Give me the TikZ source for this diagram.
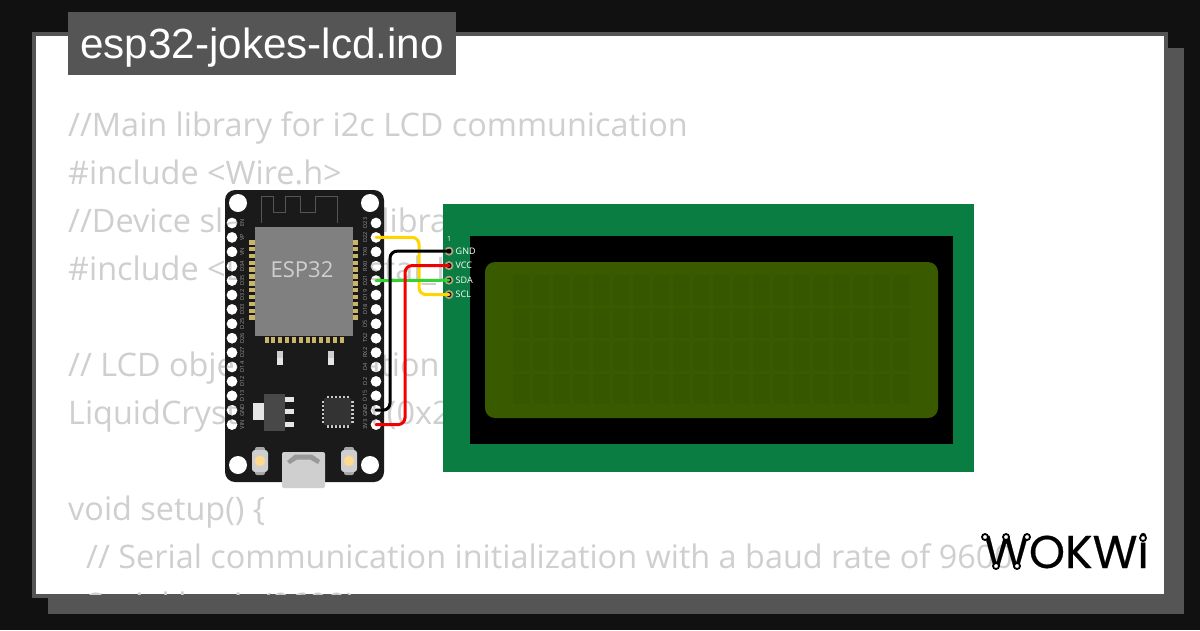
\documentclass[tikz,border=0pt]{standalone}
\usepackage{fontspec}
\setmainfont{Open Sans}
\newfontfamily\titlefont{Liberation Sans}
\newfontfamily\logofont[FakeBold=0.4]{Poppins}
\definecolor{pagebg}{HTML}{111111}
\definecolor{framegray}{HTML}{555555}
\definecolor{codegray}{HTML}{CFCFCF}
\definecolor{boardblack}{HTML}{1A1A1A}
\definecolor{padgold}{HTML}{C8B56A}
\definecolor{lcdgreen}{HTML}{0A7D43}
\definecolor{lcdscreen}{HTML}{3A5A00}
\definecolor{lcdcell}{HTML}{375600}
\definecolor{pinring}{HTML}{B3A27C}
\definecolor{wireyellow}{HTML}{FFD500}
\definecolor{wiregreen}{HTML}{32D232}
\definecolor{wirered}{HTML}{F00000}
\definecolor{btnlight}{HTML}{FFD98E}

\begin{document}
\begin{tikzpicture}[x=1pt,y=-1pt,
    codeline/.style={anchor=base west,inner sep=0pt,text=codegray,font=\fontsize{32.4}{32.4}\selectfont},
    esplabel/.style={rotate=90,inner sep=0pt,text=gray!80!white,font=\fontsize{5.6}{5.6}\selectfont},
    lcdlabel/.style={anchor=west,inner sep=0pt,text=white,font=\fontsize{9}{9}\selectfont},
    wire/.style={line width=3pt,line cap=round,rounded corners=7pt},
    logoring/.style={draw=black,fill=white,line width=1.8pt}]

  \useasboundingbox (0,0) rectangle (1200,630);

  % Background, shadow and card
  \fill[pagebg] (0,0) rectangle (1200,630);
  \fill[framegray] (48,48) rectangle (1184,614);
  \fill[framegray] (32,32) rectangle (1168,598);
  \fill[white] (36,36) rectangle (1164,594);

  % Code behind the parts
  \begin{scope}
    \clip (36,36) rectangle (1164,594);
    \node[codeline] (code1) at (68,136) {//Main library for i2c LCD communication};
    \node[codeline] (code2) at (68,184) {\#include <Wire.h>};
    \node[codeline] (code3) at (68,232) {//Device slave driver library};
    \node[codeline] (code4) at (68,280) {\#include <LiquidCrystal\_I2C.h>};
    \node[codeline] (code5) at (68,376) {// LCD object declaration};
    \node[codeline] (code6) at (68,424) {LiquidCrystal\_I2C lcd (0x27, 20, 4);};
    \node[codeline] (code7) at (68,520) {void setup() \{};
    \node[codeline] (code8) at (86,568) {// Serial communication initialization with a baud rate of 9600};
    \node[codeline] (code9) at (86,616) {Serial.begin(9600);};
  \end{scope}

  % Title
  \fill[framegray] (68,12) rectangle (456,75);
  \node[anchor=base west,inner sep=0pt,text=white,font=\titlefont\fontsize{42.2}{42.2}\selectfont] (title) at (80,58) {esp32-jokes-lcd.ino};

  % ESP32 board, pin holes are open
  \fill[boardblack,even odd rule] [rounded corners=10pt] (225,190) rectangle (384,482) [sharp corners]
    \foreach \i in {0,...,14} { (232,{223+14.4*\i}) circle (5.5) (376,{223+14.4*\i}) circle (5.5) };
  \fill[white] (238,203) circle (9) (370,203) circle (9) (238,465) circle (9) (370,465) circle (9);
  \foreach \i/\lname/\rname in {0/EN/D23,1/VP/D22,2/VN/TX0,3/D34/RX0,4/D35/D21,5/D32/D19,6/D33/D18,7/D25/D5,8/D26/TX2,9/D27/RX2,10/D14/D4,11/D12/D2,12/D13/D15,13/GND/GND,14/VIN/3V3} {
    \pgfmathsetmacro{\py}{223+14.4*\i}
    \coordinate (espL\i) at (232,\py);
    \coordinate (espR\i) at (376,\py);
    \node[esplabel] (labL\i) at (242,\py) {\lname};
    \node[esplabel] (labR\i) at (365,\py) {\rname};
  }

  % Antenna
  \draw[framegray,line width=1pt] (261,223) -- (261,196) -- (273,196) -- (273,212) -- (285,212) -- (285,196) -- (300,196) -- (300,212) -- (315,212) -- (315,196) -- (337,196) -- (337,223);

  % ESP32 module
  \foreach \i in {0,...,11} {
    \fill[padgold] (249,{242+6.85*\i-2}) rectangle (255,{242+6.85*\i+2.5});
    \fill[padgold] (352,{242+6.85*\i-2}) rectangle (358,{242+6.85*\i+2.5});
    \fill[padgold] ({266.5+6.85*\i-2},337) rectangle ({266.5+6.85*\i+2},343);
  }
  \fill[gray] (254.5,227) rectangle (352.5,336);
  \node[inner sep=0pt,text=codegray,font=\fontsize{22}{22}\selectfont] (esplogo) at (302,270) {ESP32};

  % LEDs
  \fill[codegray] (277,351) rectangle (283,365);
  \fill[white!90!black] (277,358) rectangle (283,365);
  \fill[codegray] (328,351) rectangle (334,365);
  \fill[white!90!black] (328,358) rectangle (334,365);

  % Regulator
  \fill[white!90!black] (253,403) rectangle (264,420);
  \fill[white!90!black] (285,397) rectangle (294,402);
  \fill[white!90!black] (285,409) rectangle (294,414);
  \fill[white!90!black] (285,422) rectangle (294,427);
  \fill[framegray!85!black] (264,394) rectangle (285,431);

  % Serial chip
  \foreach \i in {0,...,5} {
    \fill[white!80!black] ({328+4*\i-1},395.5) rectangle ({328+4*\i+1},398);
    \fill[white!80!black] ({328+4*\i-1},425) rectangle ({328+4*\i+1},427.5);
    \fill[white!80!black] (321.5,{402+4*\i-1}) rectangle (324,{402+4*\i+1});
    \fill[white!80!black] (351,{402+4*\i-1}) rectangle (353.5,{402+4*\i+1});
  }
  \fill[black!80,rounded corners=1pt] (324,398) rectangle (351,425);

  % Buttons
  \foreach \bx in {260,349} {
    \fill[gray!70,rounded corners=2pt] ({\bx-5},447) rectangle ({\bx+5},475);
    \fill[codegray,rounded corners=3pt] ({\bx-8},450) rectangle ({\bx+8},472);
    \fill[btnlight] (\bx,461) circle (5.3);
  }

  % USB socket
  \fill[codegray,rounded corners=2pt] (282,452) rectangle (325,488);
  \fill[gray!80] (287,461) -- (295,454.5) -- (312,454.5) -- (320,460) -- (318,464) -- (310,459.5) -- (297,459.5) -- (290,464) -- cycle;

  % LCD board
  \fill[lcdgreen] (443,204) rectangle (974,472);
  \fill[black] (470,236) rectangle (953,444);
  \fill[lcdscreen,rounded corners=10pt] (485,262) rectangle (938,418);
  \foreach \i in {0,...,19} {
    \foreach \j in {0,...,3} {
      \fill[lcdcell] ({513+20*\i},{275+33*\j}) rectangle ({530+20*\i},{305+33*\j});
    }
  }

  % LCD pins
  \node[lcdlabel,font=\fontsize{7}{7}\selectfont] (pinone) at (447,239) {1};
  \foreach \i/\pname/\py in {0/GND/251.2,1/VCC/265.6,2/SDA/280.2,3/SCL/294.6} {
    \fill[pinring] (449,\py) circle (4.5);
    \fill[black] (449,\py) circle (2.5);
    \coordinate (lcd\pname) at (449,\py);
    \node[lcdlabel] (lab\pname) at (455.5,\py) {\pname};
  }

  % Wires
  \draw[wire,wireyellow] (espR1) -| (419,280) |- (lcdSCL);
  \draw[wire,wiregreen] (espR4) -- (lcdSDA);
  \draw[wire,black] (lcdGND) -| (390,410.2) -- (espR13);
  \draw[wire,wirered] (lcdVCC) -| (405,424.6) -- (espR14);

  % Logo
  \node[anchor=base east,inner sep=0pt,text=black,font=\logofont\fontsize{46}{46}\selectfont] (logo) at (1149,568) {WOKWi};
  \foreach \rx/\ry in {985/537,1006/537,1027/537,996/566,1017/566,1143/538} {
    \fill[logoring] (\rx,\ry) circle (3);
  }

\end{tikzpicture}
\end{document}
